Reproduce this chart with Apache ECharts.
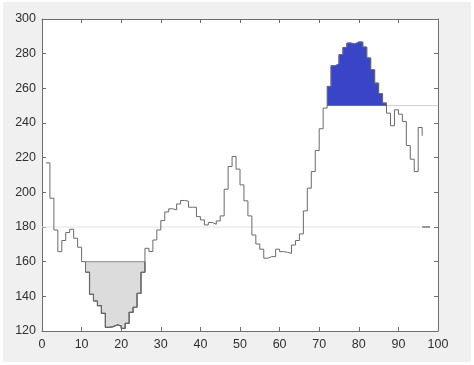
<!DOCTYPE html>
<html>
<head>
<meta charset="utf-8">
<script src="https://cdn.jsdelivr.net/npm/echarts@6/dist/echarts.min.js"></script>
<style>
html,body{margin:0;padding:0;background:#ffffff;}
#bg{position:absolute;left:3px;top:2px;width:468px;height:360px;background:#f0f0f0;}
#chart{position:absolute;left:0;top:0;width:474px;height:365px;}
</style>
</head>
<body>
<div id="bg"></div>
<div id="chart"></div>
<script>
// Step positions (x) and values (y)
const xs = [1,2,3,4,5,6,7,8,9,10,11,12,13,14,15,16,17,18,19,20,21,22,23,24,25,26,27,28,29,30,31,32,33,34,35,36,37,38,39,40,41,42,43,44,45,46,47,48,49,50,51,52,53,54,55,56,57,58,59,60,61,62,63,64,65,66,67,68,69,70,71,72,73,74,75,76,77,78,79,80,81,82,83,84,85,86,87,88,89,90,91,92,93,94,95,96];
const ys = [217,196.6,178.3,165.8,172.2,176.8,178.7,173.5,168.3,160,153.9,141.2,137.3,134.6,130.2,122.1,122.5,123.5,123,121.5,124.4,130.8,133.7,141.7,153.9,167.7,165.8,172.5,178.3,183.7,188.7,190.5,189.9,193.3,195.3,194.9,191.4,191.4,186,184.1,181.2,182.6,181.6,183.5,186.4,201.8,214.9,220.7,213.4,204.3,195.1,186.4,175.4,170.2,167.2,162,162.9,162.9,167.2,165.8,165.4,164.8,169.6,172.2,176,189.3,202.4,212,224.1,236.7,248.6,261.1,273,274,279.4,283.6,286.1,285.6,286.7,286.7,283.8,277.5,270.7,263,256.9,251.5,245.7,238.4,247.6,245.1,240.9,227,219.1,212,237.4,232.6];
const lowThreshold = 160;
const highThreshold = 250;
const midLevel = 180;
const lowRange = [11, 26];
const highRange = [72, 87];
const xTicks = [0,10,20,30,40,50,60,70,80,90,100];
const yTicks = [120,140,160,180,200,220,240,260,280,300];

const main = xs.map((x,i)=>[x, ys[i]]);
function segment(range, thr){
  const out = [];
  for(let i=0;i<xs.length;i++){
    if(xs[i]>=range[0] && xs[i]<range[1]) out.push([xs[i], ys[i]]);
  }
  out.push([range[1], thr]);
  return out;
}
const lowFill = segment(lowRange, lowThreshold);
const highFill = segment(highRange, highThreshold);

const chart = echarts.init(document.getElementById('chart'), null, {renderer:'canvas'});
const axisCol = '#6e6e6e';
const lab = {color:'#303030', fontFamily:'Liberation Sans, Arial, sans-serif', fontSize:12.5};
chart.setOption({
  animation:false,
  backgroundColor:'transparent',
  grid:{left:42, right:36, top:19, bottom:34, show:true, backgroundColor:'#ffffff', borderWidth:0},
  xAxis:[{
    type:'value', min:0, max:100, interval:10, position:'bottom',
    axisLine:{show:true, lineStyle:{color:axisCol, width:1}},
    axisTick:{show:true, inside:true, length:4, lineStyle:{color:axisCol}},
    axisLabel:Object.assign({margin:7, formatter:v=>xTicks.includes(v)?String(v):''}, lab),
    splitLine:{show:false}
  },{
    type:'value', min:0, max:100, interval:10, position:'top',
    axisLine:{show:true, onZero:false, lineStyle:{color:axisCol, width:1}},
    axisTick:{show:true, inside:true, length:4, lineStyle:{color:axisCol}},
    axisLabel:{show:false}, splitLine:{show:false}
  }],
  yAxis:[{
    type:'value', min:120, max:300, interval:20, position:'left',
    axisLine:{show:true, lineStyle:{color:axisCol, width:1}},
    axisTick:{show:true, inside:true, length:4, lineStyle:{color:axisCol}},
    axisLabel:Object.assign({margin:6, formatter:v=>yTicks.includes(v)?String(v):''}, lab),
    splitLine:{show:false}
  },{
    type:'value', min:120, max:300, interval:20, position:'right',
    axisLine:{show:true, onZero:false, lineStyle:{color:axisCol, width:1}},
    axisTick:{show:true, inside:true, length:4, lineStyle:{color:axisCol}},
    axisLabel:{show:false}, splitLine:{show:false}
  }],
  series:[
    {type:'line', data:[[0,midLevel],[96,midLevel]], symbol:'none', lineStyle:{color:'#e2e2e2', width:1}, z:1},
    {type:'line', data:[[96,midLevel],[98,midLevel]], symbol:'none', lineStyle:{color:'#333333', width:1}, z:1},
    {type:'line', data:[[72,highThreshold],[100,highThreshold]], symbol:'none', lineStyle:{color:'#cfcfcf', width:1}, z:1},
    {type:'line', data:lowFill, step:'end', symbol:'none', lineStyle:{color:'#555555', width:1.2},
      areaStyle:{origin:lowThreshold, color:'#dcdcdc', opacity:1}, z:2},
    {type:'line', data:[[lowRange[0],lowThreshold],[lowRange[1],lowThreshold]], symbol:'none', lineStyle:{color:'#8a8a8a', width:1}, z:3},
    {type:'line', data:highFill, step:'end', symbol:'none', lineStyle:{color:'#3a44c4', width:1},
      areaStyle:{origin:highThreshold, color:'#3a44c6', opacity:1}, z:2},
    {type:'line', data:main, step:'end', symbol:'none', lineStyle:{color:'#6a6a6a', width:1}, z:4}
  ]
});
</script>
</body>
</html>
